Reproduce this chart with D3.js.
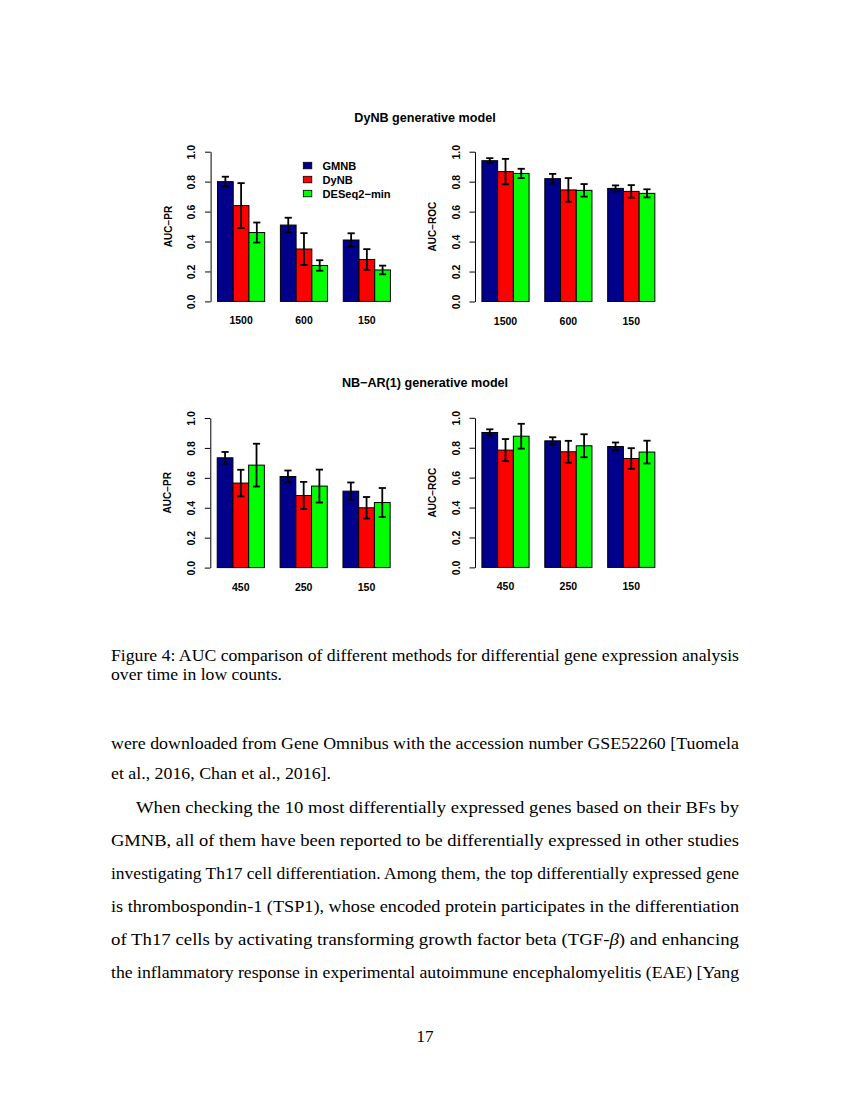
<!DOCTYPE html>
<html>
<head>
<meta charset="utf-8">
<title>AUC comparison</title>
<script src="https://d3js.org/d3.v7.min.js"></script>
<style>
  body { margin: 0; background: #fff; }
  .chart text { font-family: "Liberation Sans", Arial, sans-serif; font-weight: bold; }
  .page text { font-family: "Liberation Serif", "Times New Roman", serif; }
</style>
</head>
<body>
<svg id="page" width="850" height="1100"></svg>
<script>

// ---- data ----
var methods = ["GMNB", "DyNB", "DESeq2\u2212min"];
var topGroups = ["1500", "600", "150"];
var bottomGroups = ["450", "250", "150"];
var yTicks = [0, 0.2, 0.4, 0.6, 0.8, 1.0];

// rows = method, cols = group
var dynbPR     = [[0.80, 0.51, 0.41], [0.64, 0.35, 0.28], [0.46, 0.24, 0.21]];
var dynbPR_sd  = [[0.033, 0.049, 0.045], [0.15, 0.106, 0.069], [0.067, 0.035, 0.029]];
var dynbROC    = [[0.94, 0.82, 0.755], [0.867, 0.745, 0.735], [0.855, 0.742, 0.722]];
var dynbROC_sd = [[0.017, 0.032, 0.02], [0.085, 0.079, 0.042], [0.031, 0.042, 0.027]];

var arPR       = [[0.734, 0.609, 0.511], [0.565, 0.482, 0.40], [0.685, 0.545, 0.435]];
var arPR_sd    = [[0.039, 0.04, 0.058], [0.089, 0.091, 0.072], [0.143, 0.11, 0.097]];
var arROC      = [[0.902, 0.846, 0.808], [0.784, 0.773, 0.728], [0.877, 0.813, 0.771]];
var arROC_sd   = [[0.021, 0.024, 0.027], [0.074, 0.073, 0.069], [0.083, 0.077, 0.076]];

var titles = ["DyNB generative model", "NB\u2212AR(1) generative model"];

var captionLines = [
  "Figure 4: AUC comparison of different methods for differential gene expression analysis",
  "over time in low counts."
];
var bodyLines = [
  "were downloaded from Gene Omnibus with the accession number GSE52260 [Tuomela",
  "et al., 2016, Chan et al., 2016].",
  "When checking the 10 most differentially expressed genes based on their BFs by",
  "GMNB, all of them have been reported to be differentially expressed in other studies",
  "investigating Th17 cell differentiation. Among them, the top differentially expressed gene",
  "is thrombospondin-1 (TSP1), whose encoded protein participates in the differentiation",
  "of Th17 cells by activating transforming growth factor beta (TGF-\u03b2) and enhancing",
  "the inflammatory response in experimental autoimmune encephalomyelitis (EAE) [Yang"
];
var pageNumber = "17";

var colors = ["#00008B", "#FF0000", "#00FF00"];

// ---- drawing ----
var svg = d3.select("#page");
svg.append("rect").attr("width", 850).attr("height", 1100).attr("fill", "#fff");
var chart = svg.append("g").attr("class", "chart");

var unit = 15.72; // one bar width in px

function panel(axisX, yTop, yBottom, groups, means, sds, yLabel) {
  var g = chart.append("g");
  var x = d3.scaleLinear().domain([0.56, 12.44]).range([axisX, axisX + 11.88 * unit]);
  var y = d3.scaleLinear().domain([0, 1]).range([yBottom, yTop]);

  // bars
  var bars = [];
  groups.forEach(function(grp, gi) {
    methods.forEach(function(m, mi) {
      var left = 1 + gi * 4 + mi;
      bars.push({ left: left, mi: mi, v: means[mi][gi], sd: sds[mi][gi] });
    });
  });

  g.selectAll("rect.bar").data(bars).enter().append("rect")
    .attr("class", "bar")
    .attr("x", function(d) { return x(d.left); })
    .attr("width", function(d) { return x(d.left + 1) - x(d.left); })
    .attr("y", function(d) { return y(d.v); })
    .attr("height", function(d) { return y(0) - y(d.v); })
    .attr("fill", function(d) { return colors[d.mi]; })
    .attr("stroke", "#000").attr("stroke-width", 1);

  // error bars
  var eb = g.selectAll("g.err").data(bars).enter().append("g").attr("class", "err")
    .attr("stroke", "#000").attr("stroke-width", 1.8);
  eb.append("line")
    .attr("x1", function(d) { return x(d.left + 0.5); })
    .attr("x2", function(d) { return x(d.left + 0.5); })
    .attr("y1", function(d) { return y(d.v - d.sd); })
    .attr("y2", function(d) { return y(d.v + d.sd); });
  [-1, 1].forEach(function(s) {
    eb.append("line")
      .attr("x1", function(d) { return x(d.left + 0.5) - 3.6; })
      .attr("x2", function(d) { return x(d.left + 0.5) + 3.6; })
      .attr("y1", function(d) { return y(d.v + s * d.sd); })
      .attr("y2", function(d) { return y(d.v + s * d.sd); });
  });

  // y axis
  var ax = g.append("g").attr("transform", "translate(" + axisX + ",0)")
    .call(d3.axisLeft(y).tickValues(yTicks).tickFormat(d3.format(".1f"))
      .tickSizeInner(5.5).tickSizeOuter(0));
  ax.select(".domain").attr("stroke", "#000").attr("stroke-width", 1);
  ax.selectAll(".tick line").attr("stroke", "#000").attr("stroke-width", 1);
  ax.selectAll(".tick text")
    .attr("transform", "rotate(-90)")
    .attr("x", 0).attr("y", -15.5).attr("dy", 0)
    .attr("text-anchor", "middle")
    .attr("fill", "#000")
    .style("font-size", "10.5px")
    .style("font-family", "'Liberation Sans', Arial, sans-serif")
    .style("font-weight", "bold");

  g.append("text")
    .attr("transform", "translate(" + (axisX - 39) + "," + ((yTop + yBottom) / 2) + ") rotate(-90)")
    .attr("text-anchor", "middle")
    .style("font-size", "10px")
    .text(yLabel);

  // group labels
  g.selectAll("text.grp").data(groups).enter().append("text")
    .attr("class", "grp")
    .attr("x", function(d, i) { return x(1 + i * 4 + 1.5); })
    .attr("y", yBottom + 23)
    .attr("text-anchor", "middle")
    .style("font-size", "10.5px")
    .text(function(d) { return d; });

  return x;
}

panel(210.6, 151.7, 301.4, topGroups, dynbPR, dynbPR_sd, "AUC\u2212PR");
panel(475, 151.7, 301.5, topGroups, dynbROC, dynbROC_sd, "AUC\u2212ROC");
panel(210.3, 418, 567.6, bottomGroups, arPR, arPR_sd, "AUC\u2212PR");
panel(475, 417.8, 567.4, bottomGroups, arROC, arROC_sd, "AUC\u2212ROC");

// titles
chart.selectAll("text.title").data(titles).enter().append("text")
  .attr("class", "title")
  .attr("x", 425)
  .attr("y", function(d, i) { return i === 0 ? 122.3 : 387; })
  .attr("text-anchor", "middle")
  .style("font-size", "12.6px")
  .text(function(d) { return d; });

// legend
var leg = chart.append("g").attr("transform", "translate(303.3,162.3)");
var li = leg.selectAll("g").data(methods).enter().append("g")
  .attr("transform", function(d, i) { return "translate(0," + (i * 14) + ")"; });
li.append("rect").attr("width", 8.5).attr("height", 6.5)
  .attr("fill", function(d, i) { return colors[i]; })
  .attr("stroke", "#000").attr("stroke-width", 0.8);
li.append("text").attr("x", 19.2).attr("y", 7.6)
  .style("font-size", "11.1px")
  .text(function(d) { return d; });

// page text
var page = svg.append("g").attr("class", "page").style("font-size", "17px").attr("fill", "#000");
var left = 111, right = 739;

function line(str, x, y, width) {
  var t = page.append("text").attr("x", x).attr("y", y);
  var m = str.split("\u03b2");
  t.append("tspan").text(m[0]);
  if (m.length > 1) {
    t.append("tspan").style("font-style", "italic").text("\u03b2");
    t.append("tspan").text(m[1]);
  }
  if (width) t.attr("textLength", width).attr("lengthAdjust", "spacingAndGlyphs");
}

line(captionLines[0], left, 660.5, right - left);
line(captionLines[1], left, 680, 171);

var bodyY = [748.5, 778.5, 813, 845.5, 878.5, 911.5, 945, 978];
bodyLines.forEach(function(s, i) {
  if (i === 1) line(s, left, bodyY[i], 220);
  else if (i === 2) line(s, 136, bodyY[i], right - 136);
  else line(s, left, bodyY[i], right - left);
});

page.append("text").attr("x", 425).attr("y", 1042).attr("text-anchor", "middle").text(pageNumber);

</script>
</body>
</html>
